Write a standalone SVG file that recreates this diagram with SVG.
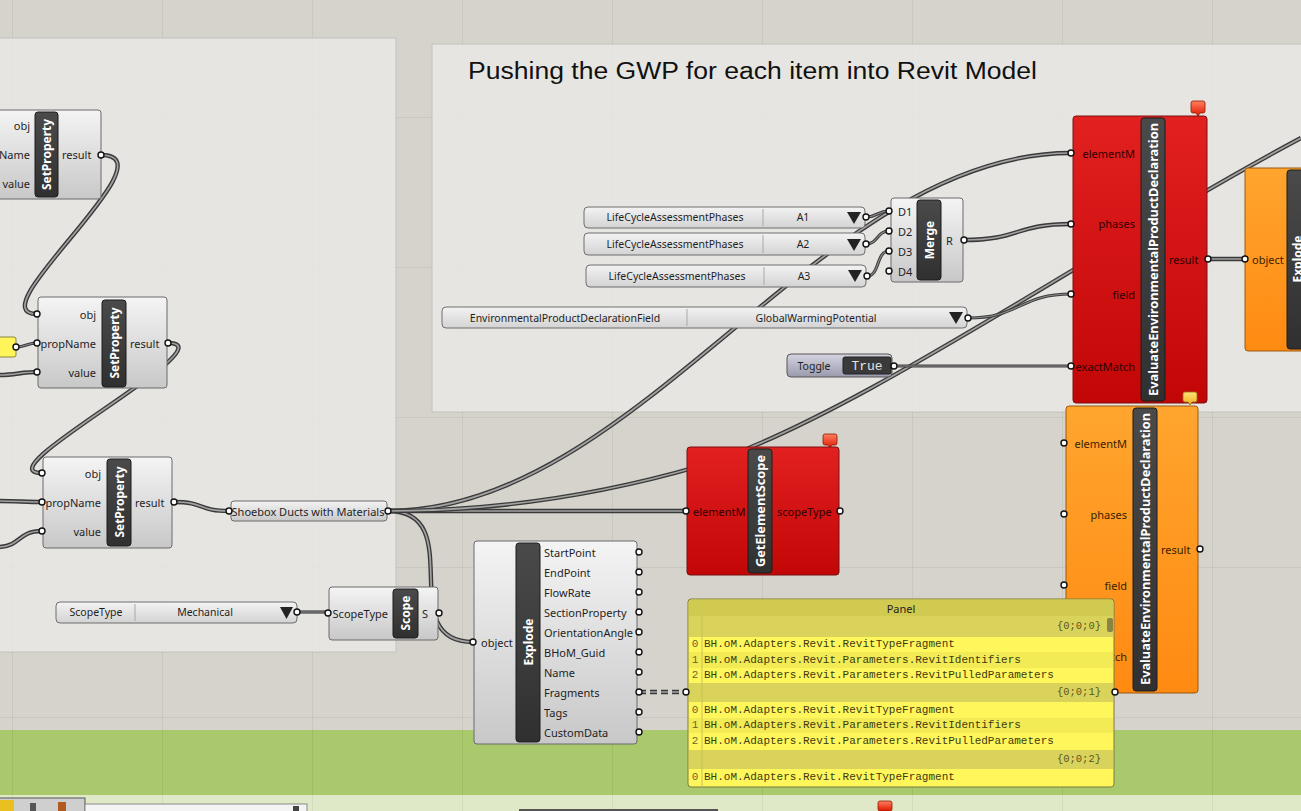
<svg xmlns="http://www.w3.org/2000/svg" width="1301" height="811" viewBox="0 0 1301 811">
<defs>
<linearGradient id="gGray" x1="0" y1="0" x2="0" y2="1"><stop offset="0" stop-color="#f4f4f4"/><stop offset="1" stop-color="#c8c8c8"/></linearGradient>
<linearGradient id="gRed" x1="0" y1="0" x2="0" y2="1"><stop offset="0" stop-color="#e22020"/><stop offset="1" stop-color="#c20606"/></linearGradient>
<linearGradient id="gOrange" x1="0" y1="0" x2="0" y2="1"><stop offset="0" stop-color="#ffa52e"/><stop offset="1" stop-color="#ff8a12"/></linearGradient>
<linearGradient id="gBar" x1="0" y1="0" x2="0" y2="1"><stop offset="0" stop-color="#4a4a4a"/><stop offset="1" stop-color="#303030"/></linearGradient>
<linearGradient id="gDrop" x1="0" y1="0" x2="0" y2="1"><stop offset="0" stop-color="#f3f3f3"/><stop offset="1" stop-color="#d3d3d3"/></linearGradient>
<linearGradient id="gToggle" x1="0" y1="0" x2="0" y2="1"><stop offset="0" stop-color="#d4d4e0"/><stop offset="1" stop-color="#9a9aae"/></linearGradient>
<linearGradient id="gMarkR" x1="0" y1="0" x2="0" y2="1"><stop offset="0" stop-color="#ff8060"/><stop offset="1" stop-color="#e01800"/></linearGradient>
<linearGradient id="gMarkY" x1="0" y1="0" x2="0" y2="1"><stop offset="0" stop-color="#ffe27a"/><stop offset="1" stop-color="#f2b01e"/></linearGradient>
<pattern id="grid" x="12" y="117" width="150" height="150" patternUnits="userSpaceOnUse"><path d="M0.5,0 V150 M0,0.5 H150" stroke="#000" stroke-opacity="0.06" stroke-width="1" fill="none"/></pattern>
<path id="c1" d="M101,155 C175,155 -25,314 37,314"/>
<path id="c2" d="M168,343 C232,343 -20,473 42,473"/>
<path id="c3" d="M16,347 C26,347 27,343 37,343"/>
<path id="c4" d="M0,375 C15,375 22,372 37,372"/>
<path id="c5" d="M0,501 C15,501 27,502 42,502"/>
<path id="c6" d="M0,547 C22,545 18,531 42,531"/>
<path id="c7" d="M174,502 C205,502 198,511 229,511"/>
<path id="c8" d="M388,511 C540,511 535,511 686,511"/>
<path id="c9" d="M388,511 C470,511 392,642 473,642"/>
<path id="c10" d="M388,511 C640,511 820,153 1071,153"/>
<path id="c11" d="M388,511 C500,511 600,495 700,466 C850,420 1100,245 1301,138"/>
<path id="c12" d="M866,217 C878,217 877,211 889,211"/>
<path id="c13" d="M866,244 C878,244 877,231 889,231"/>
<path id="c14" d="M867,276 C880,276 876,251 889,251"/>
<path id="c15" d="M964,240 C1020,240 1015,224 1071,224"/>
<path id="c16" d="M968,318 C1020,318 1020,294 1071,294"/>
<path id="c17" d="M894,366 H1071"/>
<path id="c18" d="M1208,259 H1245"/>
<path id="c19" d="M297,612 H328"/>
<path id="c20" d="M639,692 H686"/>
</defs>
<style>
.comp{fill:url(#gGray);stroke:#6b6b6b;stroke-width:1}
.red{fill:url(#gRed);stroke:#7a1010;stroke-width:1}
.org{fill:url(#gOrange);stroke:#9a5a10;stroke-width:1}
.bar{fill:url(#gBar);stroke:#1c1c1c;stroke-width:1}
.bt{font-family:"Noto Sans","Open Sans",sans-serif;font-weight:bold;font-size:12px;fill:#fff;text-anchor:middle;dominant-baseline:central}
.l{font-family:"Noto Sans","Open Sans",sans-serif;font-size:11px;fill:#1f1f1f;dominant-baseline:central}
.lr{text-anchor:end}
.lc{text-anchor:middle}
.rl{fill:#300000}
.ol{fill:#3a2200}
.dt{font-family:"Noto Sans","Open Sans",sans-serif;font-size:10.5px;fill:#1f1f1f;text-anchor:middle;dominant-baseline:central}
.port{fill:#fff;stroke:#111;stroke-width:1.4}
.drop{fill:url(#gDrop);stroke:#6e6e6e;stroke-width:1}
.dv{stroke:#a9a9a9;stroke-width:1}
.tri{fill:#222}
.wo{fill:none;stroke:#3a3a3a;stroke-width:4.4}
.wi{fill:none;stroke:#a2a2a2;stroke-width:1.7}
.so{fill:none;stroke:#3e3e3e;stroke-width:3.2}
.si{fill:none;stroke:#8a8a8a;stroke-width:1.1}
.dash{stroke-dasharray:7 4}
.mono{font-family:"Liberation Mono","DejaVu Sans Mono",monospace;font-size:11px;fill:#3d3a10;dominant-baseline:central}
.hdr{font-family:"Liberation Mono","DejaVu Sans Mono",monospace;font-size:10.5px;fill:#5a5620;text-anchor:end;dominant-baseline:central}
.idx{font-family:"Liberation Mono","DejaVu Sans Mono",monospace;font-size:11px;fill:#6a6630;text-anchor:middle;dominant-baseline:central}
.pr1{fill:#fff65c}
.pr2{fill:#f3eb55}
.ph{fill:#d9d35c}
.mr{fill:url(#gMarkR);stroke:#8a1a00;stroke-width:0.8}
.my{fill:url(#gMarkY);stroke:#9a7010;stroke-width:0.8}
</style>

<!-- canvas -->
<rect x="0" y="0" width="1301" height="811" fill="#d5d3cc"/>
<rect x="0" y="730" width="1301" height="65" fill="#a9c96c"/>
<rect x="0" y="795" width="1301" height="16" fill="#dfe9c8"/>
<rect x="0" y="0" width="1301" height="811" fill="url(#grid)"/>

<!-- groups -->
<g id="group-left"><rect x="-10" y="38" width="406" height="614" fill="#ebeae7" fill-opacity="0.8" stroke="#c4c2bb"/></g>
<g id="group-right"><rect x="432" y="44" width="880" height="368" fill="#ebeae7" fill-opacity="0.8" stroke="#c4c2bb"/>
<text x="468" y="79" font-family="Liberation Sans, Arial, sans-serif" font-size="23" fill="#111" textLength="569" lengthAdjust="spacingAndGlyphs">Pushing the GWP for each item into Revit Model</text></g>

<!-- connectors -->
<g id="connectors">
<use href="#c1" class="wo"/><use href="#c1" class="wi"/>
<use href="#c2" class="wo"/><use href="#c2" class="wi"/>
<use href="#c3" class="so"/><use href="#c3" class="si"/>
<use href="#c4" class="wo"/><use href="#c4" class="wi"/>
<use href="#c5" class="wo"/><use href="#c5" class="wi"/>
<use href="#c6" class="wo"/><use href="#c6" class="wi"/>
<use href="#c7" class="wo"/><use href="#c7" class="wi"/>
<use href="#c8" class="wo"/><use href="#c8" class="wi"/>
<use href="#c9" class="wo"/><use href="#c9" class="wi"/>
<use href="#c10" class="wo"/><use href="#c10" class="wi"/>
<use href="#c11" class="wo"/><use href="#c11" class="wi"/>
<use href="#c12" class="so"/><use href="#c12" class="si"/>
<use href="#c13" class="so"/><use href="#c13" class="si"/>
<use href="#c14" class="so"/><use href="#c14" class="si"/>
<use href="#c15" class="wo"/><use href="#c15" class="wi"/>
<use href="#c16" class="so"/><use href="#c16" class="si"/>
<use href="#c17" class="so"/><use href="#c17" class="si"/>
<use href="#c18" class="wo"/><use href="#c18" class="wi"/>
<use href="#c19" class="so"/><use href="#c19" class="si"/>
<use href="#c20" class="wo dash"/><use href="#c20" class="wi dash"/>
</g>

<!-- SetProperty 1 -->
<g id="setproperty1">
<rect class="comp" x="-10" y="110" width="111" height="89" rx="3"/>
<rect class="bar" x="35" y="112" width="23" height="85" rx="3"/>
<text class="bt" transform="translate(46.5,154.5) rotate(-90)">SetProperty</text>
<text class="l lr" x="30" y="125">obj</text>
<text class="l lr" x="30" y="154">Name</text>
<text class="l lr" x="30" y="183">value</text>
<text class="l" x="62" y="154">result</text>
<circle class="port" cx="101" cy="155" r="3"/>
</g>

<!-- yellow panel stub -->
<g id="panel-stub">
<rect x="-4" y="337" width="20" height="20" rx="2" fill="#fff55a" stroke="#8a8540"/>
<circle class="port" cx="16" cy="347" r="3"/>
</g>

<!-- SetProperty 2 -->
<g id="setproperty2">
<rect class="comp" x="38" y="297" width="129" height="91" rx="3"/>
<rect class="bar" x="102" y="300" width="24" height="87" rx="3"/>
<text class="bt" transform="translate(114,343) rotate(-90)">SetProperty</text>
<text class="l lr" x="96" y="314">obj</text>
<text class="l lr" x="96" y="343">propName</text>
<text class="l lr" x="96" y="372">value</text>
<text class="l" x="130" y="343">result</text>
<circle class="port" cx="37" cy="314" r="3"/>
<circle class="port" cx="37" cy="343" r="3"/>
<circle class="port" cx="37" cy="372" r="3"/>
<circle class="port" cx="168" cy="343" r="3"/>
</g>

<!-- SetProperty 3 -->
<g id="setproperty3">
<rect class="comp" x="43" y="457" width="129" height="91" rx="3"/>
<rect class="bar" x="107" y="459" width="24" height="87" rx="3"/>
<text class="bt" transform="translate(119,502) rotate(-90)">SetProperty</text>
<text class="l lr" x="101" y="473">obj</text>
<text class="l lr" x="101" y="502">propName</text>
<text class="l lr" x="101" y="531">value</text>
<text class="l" x="135" y="502">result</text>
<circle class="port" cx="42" cy="473" r="3"/>
<circle class="port" cx="42" cy="502" r="3"/>
<circle class="port" cx="42" cy="531" r="3"/>
<circle class="port" cx="174" cy="502" r="3"/>
</g>

<!-- Shoebox relay -->
<g id="shoebox">
<rect class="comp" x="231" y="501" width="156" height="20" rx="3"/>
<text class="l lc" x="308" y="511" font-size="10.5">Shoebox Ducts with Materials</text>
<circle class="port" cx="229" cy="511" r="3"/>
<circle class="port" cx="388" cy="511" r="3"/>
</g>

<!-- ScopeType dropdown -->
<g id="scopetype-dropdown">
<rect class="drop" x="56" y="602" width="241" height="21" rx="4"/>
<line class="dv" x1="135" y1="604" x2="135" y2="621"/>
<text class="dt" x="96" y="612">ScopeType</text>
<text class="dt" x="205" y="612">Mechanical</text>
<path class="tri" d="M280,607 H293 L286.5,619 Z"/>
<circle class="port" cx="297" cy="612" r="3"/>
</g>

<!-- Scope -->
<g id="scope">
<rect class="comp" x="329" y="587" width="109" height="53" rx="3"/>
<rect class="bar" x="393" y="589" width="25" height="49" rx="3"/>
<text class="bt" transform="translate(405.5,613) rotate(-90)">Scope</text>
<text class="l lr" x="388" y="613">ScopeType</text>
<text class="l" x="422" y="613">S</text>
<circle class="port" cx="328" cy="613" r="3"/>
<circle class="port" cx="439" cy="613" r="3"/>
</g>

<!-- LCA dropdowns -->
<g id="lca-a1">
<rect class="drop" x="584" y="207" width="281" height="21" rx="4"/>
<line class="dv" x1="763" y1="209" x2="763" y2="226"/>
<text class="dt" x="675" y="217">LifeCycleAssessmentPhases</text>
<text class="dt" x="803" y="217">A1</text>
<path class="tri" d="M847,212 H861 L854,224 Z"/>
<circle class="port" cx="866" cy="217" r="3"/>
</g>
<g id="lca-a2">
<rect class="drop" x="584" y="233" width="281" height="22" rx="4"/>
<line class="dv" x1="763" y1="235" x2="763" y2="253"/>
<text class="dt" x="675" y="244">LifeCycleAssessmentPhases</text>
<text class="dt" x="803" y="244">A2</text>
<path class="tri" d="M847,239 H861 L854,251 Z"/>
<circle class="port" cx="866" cy="244" r="3"/>
</g>
<g id="lca-a3">
<rect class="drop" x="586" y="265" width="280" height="22" rx="4"/>
<line class="dv" x1="764" y1="267" x2="764" y2="285"/>
<text class="dt" x="677" y="276">LifeCycleAssessmentPhases</text>
<text class="dt" x="804" y="276">A3</text>
<path class="tri" d="M848,270 H862 L855,282 Z"/>
<circle class="port" cx="867" cy="276" r="3"/>
</g>

<!-- Merge -->
<g id="merge">
<rect class="comp" x="891" y="198" width="72" height="84" rx="3"/>
<rect class="bar" x="917" y="200" width="24" height="80" rx="3"/>
<text class="bt" transform="translate(929,240) rotate(-90)">Merge</text>
<text class="l" x="898" y="211" font-size="10.5">D1</text>
<text class="l" x="898" y="231" font-size="10.5">D2</text>
<text class="l" x="898" y="251" font-size="10.5">D3</text>
<text class="l" x="898" y="271" font-size="10.5">D4</text>
<text class="l" x="946" y="240" font-size="10.5">R</text>
<circle class="port" cx="889" cy="211" r="3"/>
<circle class="port" cx="889" cy="231" r="3"/>
<circle class="port" cx="889" cy="251" r="3"/>
<circle class="port" cx="889" cy="271" r="3"/>
<circle class="port" cx="964" cy="240" r="3"/>
</g>

<!-- EPD field dropdown -->
<g id="epd-field">
<rect class="drop" x="442" y="307" width="525" height="21" rx="4"/>
<line class="dv" x1="687" y1="309" x2="687" y2="326"/>
<text class="dt" x="565" y="317.5">EnvironmentalProductDeclarationField</text>
<text class="dt" x="816" y="317.5">GlobalWarmingPotential</text>
<path class="tri" d="M949,312 H963 L956,324 Z"/>
<circle class="port" cx="968" cy="318" r="3"/>
</g>

<!-- Toggle -->
<g id="toggle">
<rect x="787" y="354" width="105" height="23" rx="4" fill="url(#gToggle)" stroke="#555"/>
<rect x="843" y="357" width="48" height="17" rx="2" fill="#3a3a3a" stroke="#222"/>
<text class="dt" x="814" y="366" font-size="11">Toggle</text>
<text x="867" y="366" font-family="Liberation Mono, DejaVu Sans Mono, monospace" font-size="13" fill="#e4e4e4" text-anchor="middle" dominant-baseline="central">True</text>
<circle class="port" cx="894" cy="366" r="3"/>
</g>

<!-- Evaluate EPD (red) -->
<g id="evaluate-epd-1">
<path class="mr" d="M1191,103 a2,2 0 0 1 2,-2 h10 a2,2 0 0 1 2,2 v8 a2,2 0 0 1 -2,2 h-3 l-2,3 l-2,-3 h-3 a2,2 0 0 1 -2,-2 Z"/>
<rect class="red" x="1073" y="116" width="134" height="287" rx="3"/>
<rect class="bar" x="1141" y="118" width="24" height="283" rx="3"/>
<text class="bt" transform="translate(1153,259.5) rotate(-90)" textLength="273" lengthAdjust="spacingAndGlyphs">EvaluateEnvironmentalProductDeclaration</text>
<text class="l lr rl" x="1135" y="153">elementM</text>
<text class="l lr rl" x="1135" y="223">phases</text>
<text class="l lr rl" x="1135" y="294">field</text>
<text class="l lr rl" x="1135" y="366">exactMatch</text>
<text class="l rl" x="1169" y="259">result</text>
<path class="my" d="M1183,394 a2,2 0 0 1 2,-2 h10 a2,2 0 0 1 2,2 v6 a2,2 0 0 1 -2,2 h-3 l-2,3 l-2,-3 h-3 a2,2 0 0 1 -2,-2 Z"/>
<circle class="port" cx="1071" cy="153" r="3"/>
<circle class="port" cx="1071" cy="224" r="3"/>
<circle class="port" cx="1071" cy="294" r="3"/>
<circle class="port" cx="1071" cy="366" r="3"/>
<circle class="port" cx="1208" cy="259" r="3"/>
</g>

<!-- Explode (orange, right) -->
<g id="explode-right">
<rect class="org" x="1245" y="168" width="80" height="183" rx="3"/>
<rect class="bar" x="1287" y="170" width="24" height="179" rx="3"/>
<text class="bt" transform="translate(1297,259) rotate(-90)">Explode</text>
<text class="l ol" x="1252" y="259">object</text>
<circle class="port" cx="1245" cy="259" r="3"/>
</g>

<!-- GetElementScope -->
<g id="getelementscope">
<path class="mr" d="M823,436 a2,2 0 0 1 2,-2 h10 a2,2 0 0 1 2,2 v7 a2,2 0 0 1 -2,2 h-3 l-2,3 l-2,-3 h-3 a2,2 0 0 1 -2,-2 Z"/>
<rect class="red" x="687" y="447" width="152" height="128" rx="3"/>
<rect class="bar" x="748" y="449" width="24" height="124" rx="3"/>
<text class="bt" transform="translate(760,511) rotate(-90)" textLength="112" lengthAdjust="spacingAndGlyphs">GetElementScope</text>
<text class="l rl" x="693" y="511">elementM</text>
<text class="l rl" x="777" y="511">scopeType</text>
<circle class="port" cx="686" cy="511" r="3"/>
<circle class="port" cx="840" cy="511" r="3"/>
</g>

<!-- Explode -->
<g id="explode">
<rect class="comp" x="474" y="541" width="163" height="203" rx="3"/>
<rect class="bar" x="516" y="543" width="24" height="199" rx="3"/>
<text class="bt" transform="translate(528,642) rotate(-90)">Explode</text>
<text class="l" x="481" y="642">object</text>
<text class="l" x="544" y="552" font-size="10.5">StartPoint</text>
<text class="l" x="544" y="572" font-size="10.5">EndPoint</text>
<text class="l" x="544" y="592" font-size="10.5">FlowRate</text>
<text class="l" x="544" y="612" font-size="10.5">SectionProperty</text>
<text class="l" x="544" y="632" font-size="10.5">OrientationAngle</text>
<text class="l" x="544" y="652" font-size="10.5">BHoM_Guid</text>
<text class="l" x="544" y="672" font-size="10.5">Name</text>
<text class="l" x="544" y="692" font-size="10.5">Fragments</text>
<text class="l" x="544" y="712" font-size="10.5">Tags</text>
<text class="l" x="544" y="732" font-size="10.5">CustomData</text>
<circle class="port" cx="473" cy="642" r="3"/>
<circle class="port" cx="639" cy="552" r="3"/>
<circle class="port" cx="639" cy="572" r="3"/>
<circle class="port" cx="639" cy="592" r="3"/>
<circle class="port" cx="639" cy="612" r="3"/>
<circle class="port" cx="639" cy="632" r="3"/>
<circle class="port" cx="639" cy="652" r="3"/>
<circle class="port" cx="639" cy="672" r="3"/>
<circle class="port" cx="639" cy="692" r="3"/>
<circle class="port" cx="639" cy="712" r="3"/>
<circle class="port" cx="639" cy="732" r="3"/>
</g>

<!-- Evaluate EPD (orange) -->
<g id="evaluate-epd-2">
<rect class="org" x="1066" y="406" width="132" height="287" rx="3"/>
<rect class="bar" x="1133" y="408" width="24" height="283" rx="3"/>
<text class="bt" transform="translate(1145,549) rotate(-90)" textLength="272" lengthAdjust="spacingAndGlyphs">EvaluateEnvironmentalProductDeclaration</text>
<text class="l lr ol" x="1127" y="443">elementM</text>
<text class="l lr ol" x="1127" y="514">phases</text>
<text class="l lr ol" x="1127" y="585">field</text>
<text class="l lr ol" x="1127" y="656">exactMatch</text>
<text class="l ol" x="1161" y="549">result</text>
<circle class="port" cx="1064" cy="443" r="3"/>
<circle class="port" cx="1064" cy="514" r="3"/>
<circle class="port" cx="1064" cy="585" r="3"/>
<circle class="port" cx="1064" cy="656" r="3"/>
<circle class="port" cx="1200" cy="549" r="3"/>
</g>

<!-- Panel -->
<g id="panel">
<rect x="688" y="599" width="426" height="188" rx="3" fill="#fff65c" stroke="#7d7a3a"/>
<rect x="689" y="600" width="424" height="16" fill="#d0ca50"/>
<text class="l lc" x="901" y="608" font-size="10.5" fill="#2a2a10">Panel</text>
<rect class="ph" x="689" y="616" width="424" height="21"/>
<rect class="pr1" x="689" y="637" width="424" height="15"/>
<rect class="pr2" x="689" y="652" width="424" height="16"/>
<rect class="pr1" x="689" y="668" width="424" height="15"/>
<rect class="ph" x="689" y="683" width="424" height="19"/>
<rect class="pr1" x="689" y="702" width="424" height="16"/>
<rect class="pr2" x="689" y="718" width="424" height="15"/>
<rect class="pr1" x="689" y="733" width="424" height="17"/>
<rect class="ph" x="689" y="750" width="424" height="19"/>
<rect class="pr1" x="689" y="769" width="424" height="17"/>
<line x1="702" y1="616" x2="702" y2="786" stroke="#c9c250" stroke-width="1"/>
<rect x="1107" y="618" width="6" height="14" rx="2" fill="#8a8440"/>
<text class="hdr" x="1101" y="626">{0;0;0}</text>
<text class="idx" x="695" y="644">0</text>
<text class="idx" x="695" y="660">1</text>
<text class="idx" x="695" y="675">2</text>
<text class="mono" x="704" y="644">BH.oM.Adapters.Revit.RevitTypeFragment</text>
<text class="mono" x="704" y="660">BH.oM.Adapters.Revit.Parameters.RevitIdentifiers</text>
<text class="mono" x="704" y="675">BH.oM.Adapters.Revit.Parameters.RevitPulledParameters</text>
<text class="hdr" x="1101" y="692">{0;0;1}</text>
<text class="idx" x="695" y="710">0</text>
<text class="idx" x="695" y="725">1</text>
<text class="idx" x="695" y="741">2</text>
<text class="mono" x="704" y="710">BH.oM.Adapters.Revit.RevitTypeFragment</text>
<text class="mono" x="704" y="725">BH.oM.Adapters.Revit.Parameters.RevitIdentifiers</text>
<text class="mono" x="704" y="741">BH.oM.Adapters.Revit.Parameters.RevitPulledParameters</text>
<text class="hdr" x="1101" y="759">{0;0;2}</text>
<text class="idx" x="695" y="777">0</text>
<text class="mono" x="704" y="777">BH.oM.Adapters.Revit.RevitTypeFragment</text>
<circle class="port" cx="686" cy="692" r="3"/>
<circle class="port" cx="1115" cy="692" r="3"/>
</g>

<!-- bottom UI fragments -->
<g id="bottom-ui">
<rect x="-2" y="798" width="87" height="15" fill="#cfcfcf" stroke="#555"/>
<rect x="0" y="800" width="14" height="11" fill="#e8c020"/>
<rect x="30" y="803" width="6" height="8" fill="#555"/>
<rect x="58" y="802" width="8" height="9" fill="#b05a20"/>
<rect x="85" y="804" width="222" height="9" fill="#f4f4f4" stroke="#888"/>
<rect x="293" y="806" width="6" height="5" fill="#444"/>
<rect x="519" y="809" width="199" height="2" fill="#555"/>
<rect x="878" y="801" width="14" height="10" rx="2" fill="url(#gMarkR)" stroke="#8a1a00" stroke-width="0.8"/>
</g>
</svg>
